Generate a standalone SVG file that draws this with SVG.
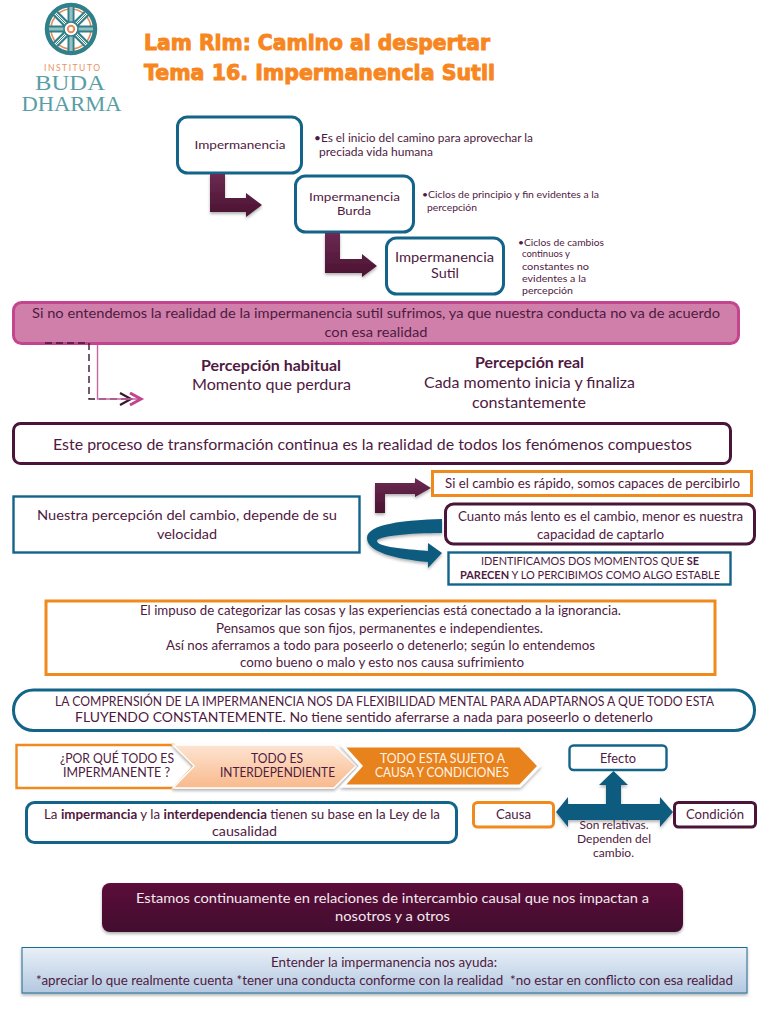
<svg xmlns="http://www.w3.org/2000/svg" width="768" height="1024" viewBox="0 0 768 1024">
<style>
text{font-family:Lato,"Open Sans","Liberation Sans",sans-serif;fill:#4f1a3f;text-anchor:middle}
.l{text-anchor:start}
.b{font-weight:700}
.s10{font-size:10px}.s11{font-size:11px}.s12{font-size:12px}.s13{font-size:13px}.s14{font-size:14px}.s15{font-size:15px}.s16{font-size:16px}
.w{fill:#f3e9ee}
.o{fill:#fff4ea}
.t{font-family:"DejaVu Sans",sans-serif;font-weight:700;font-size:21.500px;fill:#f7861f;stroke:#f7861f;stroke-width:1;text-anchor:start}
.bl{fill:#fff;stroke:#14648a;stroke-width:3}
.dk{fill:#fff;stroke:#4a1538;stroke-width:3}
.or{fill:#fff;stroke:#f08a1d;stroke-width:3}
.arr{fill:url(#plum);filter:url(#sh)}
.logoT{font-family:"Liberation Serif",serif;fill:#5a9ea5}
</style>
<defs>
<linearGradient id="plum" x1="0" x2="0" y1="0" y2="1"><stop offset="0" stop-color="#6b2a52"/><stop offset="1" stop-color="#4a1230"/></linearGradient>
<linearGradient id="peach" x1="0" x2="0" y1="0" y2="1"><stop offset="0" stop-color="#fde4d2"/><stop offset="1" stop-color="#f9b98c"/></linearGradient>
<linearGradient id="wine" x1="0" x2="0" y1="0" y2="1"><stop offset="0" stop-color="#5c0f3a"/><stop offset="1" stop-color="#41112e"/></linearGradient>
<linearGradient id="sky" x1="0" x2="0" y1="0" y2="1"><stop offset="0" stop-color="#e9f0f7"/><stop offset="1" stop-color="#b3c8e1"/></linearGradient>
<filter id="sh" x="-10%" y="-10%" width="120%" height="125%"><feDropShadow dx="0" dy="2" stdDeviation="1.5" flood-color="#000" flood-opacity=".3"/></filter>
<marker id="mDark" markerWidth="16" markerHeight="16" refX="13" refY="7" orient="auto" markerUnits="userSpaceOnUse"><path d="M1 1L12 7L1 13" fill="none" stroke="#3f1431" stroke-width="2.200"/></marker>
<marker id="mPink" markerWidth="16" markerHeight="16" refX="13" refY="7" orient="auto" markerUnits="userSpaceOnUse"><path d="M1 1L12 7L1 13" fill="none" stroke="#c4458f" stroke-width="3"/></marker>
</defs>

<g id="logo">
<circle cx="71" cy="29" r="24" fill="none" stroke="#2f8088" stroke-width="4.500"/>
<circle cx="71" cy="29" r="20" fill="none" stroke="#ee8a5a" stroke-width="1.600"/>
<path d="M71 7V51M49 29H93M55.400 13.400L86.600 44.600M86.600 13.400L55.400 44.600" stroke="#2f8088" stroke-width="7" fill="none"/>
<path d="M71 7V51M49 29H93M55.400 13.400L86.600 44.600M86.600 13.400L55.400 44.600" stroke="#fff" stroke-width="2.600" fill="none"/>
<path d="M71 7V51M49 29H93M55.400 13.400L86.600 44.600M86.600 13.400L55.400 44.600" stroke="#2f8088" stroke-width="1" fill="none"/>
<circle cx="71" cy="29" r="7" fill="#fff" stroke="#2f8088" stroke-width="1.500"/>
<circle cx="71" cy="29" r="3.200" fill="#fff" stroke="#ee8a5a" stroke-width="2"/>
<text x="72" y="70.500" style="font-family:Lato,sans-serif;fill:#e8915f" font-size="8.500" textLength="56">INSTITUTO</text>
<text x="70" y="90" class="logoT" font-size="21" textLength="70" lengthAdjust="spacingAndGlyphs">BUDA</text>
<text x="71.500" y="111" class="logoT" font-size="22" textLength="100" lengthAdjust="spacingAndGlyphs">DHARMA</text>
</g>

<g id="title">
<text class="t" x="144" y="50" textLength="346" lengthAdjust="spacingAndGlyphs">Lam Rim: Camino al despertar</text>
<text class="t" x="144" y="80" textLength="351" lengthAdjust="spacingAndGlyphs">Tema 16. Impermanencia Sutil</text>
</g>

<g id="n-impermanencia"><rect class="bl" x="177.500" y="117" width="124" height="56" rx="10"/><text class="s12" x="240" y="149" textLength="91" lengthAdjust="spacingAndGlyphs">Impermanencia</text></g>
<g id="n-burda"><rect class="bl" x="295.500" y="176" width="118" height="56" rx="10"/><text class="s12" x="354.500" y="201" textLength="91" lengthAdjust="spacingAndGlyphs">Impermanencia</text><text class="s12" x="354" y="215" textLength="34" lengthAdjust="spacingAndGlyphs">Burda</text></g>
<g id="n-sutil"><rect class="bl" x="386.500" y="238" width="117" height="56" rx="10"/><text class="s14" x="444.500" y="262" textLength="99" lengthAdjust="spacingAndGlyphs">Impermanencia</text><text class="s14" x="445" y="278" textLength="28" lengthAdjust="spacingAndGlyphs">Sutil</text></g>

<g id="t-inicio"><text class="s11 l" x="314" y="142" textLength="219" lengthAdjust="spacingAndGlyphs">•Es el inicio del camino para aprovechar la</text><text class="s11 l" x="319" y="156" textLength="114" lengthAdjust="spacingAndGlyphs">preciada vida humana</text></g>
<g id="t-ciclos"><text class="s10 l" x="422" y="198" textLength="177" lengthAdjust="spacingAndGlyphs">•Ciclos de principio y fin evidentes a la</text><text class="s10 l" x="427" y="211" textLength="50" lengthAdjust="spacingAndGlyphs">percepción</text></g>
<g id="t-cambios"><text class="s10 l" x="518" y="246" textLength="86" lengthAdjust="spacingAndGlyphs">•Ciclos de cambios</text><text class="s10 l" x="522" y="257" textLength="48" lengthAdjust="spacingAndGlyphs">continuos y</text><text class="s10 l" x="522" y="270" textLength="67" lengthAdjust="spacingAndGlyphs">constantes no</text><text class="s10 l" x="522" y="282" textLength="64" lengthAdjust="spacingAndGlyphs">evidentes a la</text><text class="s10 l" x="522" y="294" textLength="51" lengthAdjust="spacingAndGlyphs">percepción</text></g>

<g id="n-pink"><rect x="13.500" y="302.500" width="725" height="41" rx="8" fill="#d07fab" stroke="#c4458f" stroke-width="3"/><text class="s14" x="376" y="318" textLength="688" lengthAdjust="spacingAndGlyphs">Si no entendemos la realidad de la impermanencia sutil sufrimos, ya que nuestra conducta no va de acuerdo</text><text class="s14" x="376" y="337" textLength="103" lengthAdjust="spacingAndGlyphs">con esa realidad</text></g>

<g id="t-habitual"><text class="s15 b" x="271" y="371" textLength="140" lengthAdjust="spacingAndGlyphs">Percepción habitual</text><text class="s16" x="271.500" y="390" textLength="159" lengthAdjust="spacingAndGlyphs">Momento que perdura</text></g>
<g id="t-real"><text class="s15 b" x="529.500" y="368" textLength="109" lengthAdjust="spacingAndGlyphs">Percepción real</text><text class="s16" x="529.500" y="388" textLength="211" lengthAdjust="spacingAndGlyphs">Cada momento inicia y finaliza</text><text class="s16" x="529" y="408" textLength="114" lengthAdjust="spacingAndGlyphs">constantemente</text></g>

<g id="n-este"><rect class="dk" x="13.500" y="423.500" width="717" height="40" rx="7"/><text class="s16" x="372.500" y="450" textLength="639" lengthAdjust="spacingAndGlyphs">Este proceso de transformación continua es la realidad de todos los fenómenos compuestos</text></g>
<g id="n-nuestra"><rect class="bl" x="13.500" y="496.500" width="346" height="56" style="stroke-width:2.400"/><text class="s14" x="187" y="520" textLength="300" lengthAdjust="spacingAndGlyphs">Nuestra percepción del cambio, depende de su</text><text class="s14" x="187" y="539" textLength="60" lengthAdjust="spacingAndGlyphs">velocidad</text></g>
<g id="n-rapido"><rect class="or" x="432.500" y="471.500" width="319" height="24"/><text class="s13" x="592.500" y="488" textLength="295" lengthAdjust="spacingAndGlyphs">Si el cambio es rápido, somos capaces de percibirlo</text></g>
<g id="n-lento"><rect class="dk" x="445.500" y="504" width="309" height="40" rx="8"/><text class="s13" x="600.500" y="521" textLength="285" lengthAdjust="spacingAndGlyphs">Cuanto más lento es el cambio, menor es nuestra</text><text class="s13" x="600.500" y="539" textLength="127" lengthAdjust="spacingAndGlyphs">capacidad de captarlo</text></g>
<g id="n-identificamos"><rect class="bl" x="448.500" y="552.500" width="282" height="32" style="stroke-width:2.400"/><text class="s11" x="590" y="565" textLength="218" lengthAdjust="spacingAndGlyphs">IDENTIFICAMOS DOS MOMENTOS QUE <tspan class="b">SE</tspan></text><text class="s11" x="590" y="579" textLength="260" lengthAdjust="spacingAndGlyphs"><tspan class="b">PARECEN</tspan> Y LO PERCIBIMOS COMO ALGO ESTABLE</text></g>

<g id="n-impulso"><rect class="or" x="46" y="601" width="669" height="73.500"/><text class="s13" x="380.500" y="615" textLength="481" lengthAdjust="spacingAndGlyphs">El impuso de categorizar las cosas y las experiencias está conectado a la ignorancia.</text><text class="s13" x="379.500" y="633" textLength="327" lengthAdjust="spacingAndGlyphs">Pensamos que son fijos, permanentes e independientes.</text><text class="s13" x="380.500" y="650" textLength="429" lengthAdjust="spacingAndGlyphs">Así nos aferramos a todo para poseerlo o detenerlo; según lo entendemos</text><text class="s13" x="382" y="667" textLength="284" lengthAdjust="spacingAndGlyphs">como bueno o malo y esto nos causa sufrimiento</text></g>
<g id="n-comprension"><rect class="bl" x="13.500" y="690" width="741" height="40.500" rx="20"/><text class="s13" x="384.500" y="706" textLength="659" lengthAdjust="spacingAndGlyphs">LA COMPRENSIÓN DE LA IMPERMANENCIA NOS DA FLEXIBILIDAD MENTAL PARA ADAPTARNOS A QUE TODO ESTA</text><text class="s13" x="364" y="722" textLength="578" lengthAdjust="spacingAndGlyphs">FLUYENDO CONSTANTEMENTE.  No tiene sentido aferrarse a nada para poseerlo o detenerlo</text></g>

<g id="n-porque"><path d="M16.500 745H174L194 766L174 788H16.500Z" fill="#fff" stroke="#f08a1d" stroke-width="2.400"/><text class="s13" x="117" y="763" textLength="114" lengthAdjust="spacingAndGlyphs">¿POR QUÉ TODO ES</text><text class="s13" x="116.500" y="777" textLength="107" lengthAdjust="spacingAndGlyphs">IMPERMANENTE ?</text></g>
<g id="n-inter"><path d="M173 745H334L356 766L334 788H173L194 766Z" fill="url(#peach)" stroke="#fff" stroke-width="1.500" filter="url(#sh)"/><text class="s13" x="277" y="763" textLength="52" lengthAdjust="spacingAndGlyphs">TODO ES</text><text class="s13" x="277.500" y="777" textLength="115" lengthAdjust="spacingAndGlyphs">INTERDEPENDIENTE</text></g>
<g id="n-sujeto"><path d="M343 746H520L539 766L520 786H343L361 766Z" fill="#e8821e" stroke="#fff" stroke-width="3" filter="url(#sh)"/><text class="s13 o" x="442.500" y="763" textLength="125" lengthAdjust="spacingAndGlyphs">TODO ESTA SUJETO A</text><text class="s13 o" x="442" y="777" textLength="134" lengthAdjust="spacingAndGlyphs">CAUSA Y CONDICIONES</text></g>

<g id="n-base"><rect class="bl" x="26.500" y="802.500" width="430" height="40" rx="8"/><text class="s13" x="242" y="819" textLength="396" lengthAdjust="spacingAndGlyphs">La <tspan class="b">impermancia</tspan> y la <tspan class="b">interdependencia</tspan> tienen su base en la Ley de la</text><text class="s13" x="244.500" y="836" textLength="65" lengthAdjust="spacingAndGlyphs">causalidad</text></g>
<g id="n-efecto"><rect class="bl" x="569.500" y="745.500" width="97" height="24.500" rx="4" style="stroke-width:2.400"/><text class="s13" x="618" y="763" textLength="36" lengthAdjust="spacingAndGlyphs">Efecto</text></g>
<g id="n-causa"><rect class="or" x="473.500" y="802.500" width="80" height="24.500" rx="4"/><text class="s13" x="513.500" y="819" textLength="35" lengthAdjust="spacingAndGlyphs">Causa</text></g>
<g id="n-condicion"><rect class="dk" x="674.500" y="802.500" width="81" height="24.500" rx="4"/><text class="s14" x="715" y="819" textLength="58" lengthAdjust="spacingAndGlyphs">Condición</text></g>

<g id="n-estamos"><rect x="102" y="883" width="581" height="49" rx="8" fill="url(#wine)" filter="url(#sh)"/><text class="s13 w" x="392.500" y="903" textLength="513" lengthAdjust="spacingAndGlyphs">Estamos continuamente en relaciones de intercambio causal que nos impactan a</text><text class="s13 w" x="392.500" y="921" textLength="115" lengthAdjust="spacingAndGlyphs">nosotros y a otros</text></g>
<g id="n-entender"><rect x="22" y="947.500" width="725" height="45.500" fill="url(#sky)" stroke="#1f6b8e" stroke-width="1" filter="url(#sh)"/><text class="s13" x="384" y="967" textLength="226" lengthAdjust="spacingAndGlyphs">Entender la impermanencia nos ayuda:</text><text class="s13" xml:space="preserve" x="384.500" y="985" textLength="697" lengthAdjust="spacingAndGlyphs">*apreciar lo que realmente cuenta *tener una conducta conforme con la realidad  *no estar en conflicto con esa realidad</text></g>

<g id="connectors">
<path class="arr" d="M210 174H225V198H246V193L262 205L246 217V212H210Z"/>
<path class="arr" d="M325 233H340V259H362V254L377 266L362 277V273H325Z"/>
<path d="M45 343H89V399H132" fill="none" stroke="#3f1431" stroke-width="1.400" stroke-dasharray="7 4" marker-end="url(#mDark)"/>
<path d="M97.500 345V399H142" fill="none" stroke="#c4669f" stroke-width="1.400" marker-end="url(#mPink)"/>
<path class="arr" d="M375 513V483H415V478L431 488L415 497V494H385V513Z"/>
<path d="M442 519C405 520 367 524 367 538C367 552 395 559 428 562V568L442 553L428 543V551C405 549 377 547 377 541C377 536 410 533 442 533Z" fill="#0f5c80" filter="url(#sh)"/>
<path d="M556 812L568 797V804H606V785H599L613.500 771L628 785H621V804H660V797L673 812L660 827V820H568V827Z" fill="#0f5c80" filter="url(#sh)"/>
</g>

<g id="t-relativas"><text class="s11" x="614" y="829" textLength="69" lengthAdjust="spacingAndGlyphs">Son relativas.</text><text class="s11" x="614" y="843" textLength="74" lengthAdjust="spacingAndGlyphs">Dependen del</text><text class="s11" x="613.500" y="857" textLength="41" lengthAdjust="spacingAndGlyphs">cambio.</text></g>
</svg>
